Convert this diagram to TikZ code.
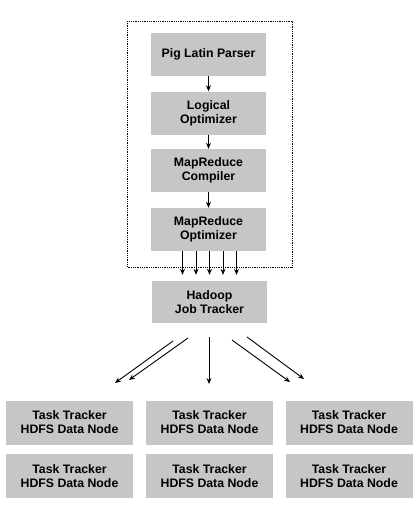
\documentclass[tikz,border=0pt]{standalone}
\usepackage{fontspec}
\setmainfont{Liberation Sans}
\usetikzlibrary{arrows.meta}
\definecolor{boxgray}{HTML}{C6C6C6}
\begin{document}
\begin{tikzpicture}[x=1pt,y=-1pt,
  box/.style={fill=boxgray,minimum width=115pt,minimum height=43pt,align=center,inner sep=0pt,
    font=\fontsize{12.3}{14}\selectfont\bfseries},
  task/.style={box,minimum width=127pt,minimum height=44pt},
  arr/.style={-{Stealth[length=6pt,width=5pt]},line width=0.9pt}]
\useasboundingbox (0,0) rectangle (420,523);

% pig compiler stack
\draw[densely dotted,line width=0.8pt] (127,21) rectangle (292,267);
\node[box] (plp) at (208.5,54.5) {Pig Latin Parser};
\node[box] (lo) at (208.5,113) {Logical\\Optimizer};
\node[box] (mrc) at (208.5,170.5) {MapReduce\\Compiler};
\node[box] (mro) at (208.5,229.5) {MapReduce\\Optimizer};
\draw[arr] (plp) -- (lo);
\draw[arr] (lo) -- (mrc);
\draw[arr] (mrc) -- (mro);

% job tracker
\node[box,minimum height=42pt] (jt) at (209.5,302) {Hadoop\\Job Tracker};
\foreach \dx in {-26,-12.5,1,14.5,28}
  \draw[arr,shorten >=6pt] ([xshift=\dx pt]mro.south) -- ([xshift=\dx pt]mro.south |- jt.north);

% task trackers
\node[task] (tt1) at (69.5,422.5) {Task Tracker\\HDFS Data Node};
\node[task] (tt2) at (209.5,422.5) {Task Tracker\\HDFS Data Node};
\node[task] (tt3) at (349,422.5) {Task Tracker\\HDFS Data Node};
\node[task] (tt4) at (69.5,476) {Task Tracker\\HDFS Data Node};
\node[task] (tt5) at (209.5,476) {Task Tracker\\HDFS Data Node};
\node[task] (tt6) at (349,476) {Task Tracker\\HDFS Data Node};

\coordinate (l1) at (173,341);
\coordinate (l1e) at (115,383);
\coordinate (l2) at (188,338);
\coordinate (l2e) at (129,380);
\coordinate (m) at (209,337);
\coordinate (me) at (209,384);
\coordinate (r1) at (232,340);
\coordinate (r1e) at (290,382);
\coordinate (r2) at (247,337);
\coordinate (r2e) at (304,379);
\draw[arr] (l1) -- (l1e);
\draw[arr] (l2) -- (l2e);
\draw[arr] (m) -- (me);
\draw[arr] (r1) -- (r1e);
\draw[arr] (r2) -- (r2e);
\end{tikzpicture}
\end{document}
